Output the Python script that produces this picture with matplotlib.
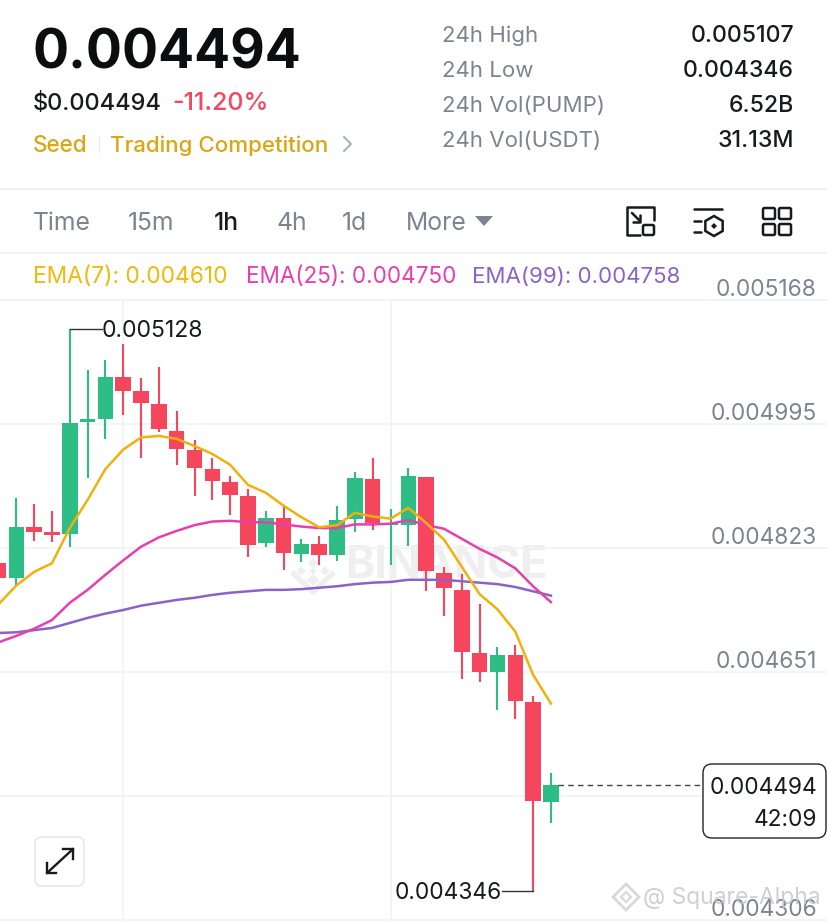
import matplotlib
matplotlib.use("Agg")
import matplotlib.pyplot as plt
from matplotlib.patches import FancyBboxPatch, Polygon, RegularPolygon

plt.rcParams['font.family'] = ['Inter', 'DejaVu Sans']

# Prices in millionths of USDT; candle index -1 is the clipped one at the left edge
idx = list(range(-1, 31))
tops = [4803,4852,4852,4845,4997,5002,5061,5061,5041,5024,4986,4960,4933,4915,4895,4865,4865,
        4829,4829,4862,4920,4919,4858,4923,4922,4789,4765,4677,4674,4674,4609,4494]
bottoms = [4781,4781,4845,4841,4842,4998,5002,5042,5025,4988,4961,4934,4916,4897,4828,4830,4816,
           4815,4813,4813,4864,4858,4855,4855,4791,4767,4678,4651,4651,4610,4472,4470]
highs = [4813,4893,4884,4875,5128,5071,5085,5107,5060,5075,5014,4973,4949,4923,4905,4875,4882,
         4836,4840,4882,4929,4948,4877,4935,4922,4797,4787,4745,4685,4688,4617,4510]
lows = [4772,4770,4833,4832,4825,4920,4975,5008,4949,4985,4939,4896,4890,4869,4810,4824,4793,
        4804,4800,4805,4846,4848,4799,4826,4763,4729,4641,4637,4598,4586,4346,4441]
up = [0,1,0,0,1,1,1,0,0,0,0,0,0,0,0,1,0,1,0,1,1,0,1,1,0,0,0,0,1,0,0,1]
ema7 = [4745,4771,4790,4802,4851,4890,4933,4960,4977,4979,4975,4965,4954,4939,4911,4900,4882,
        4866,4852,4855,4872,4867,4864,4879,4858,4835,4797,4759,4738,4707,4647,4607]
ema25 = [4692,4701,4711,4723,4747,4765,4786,4806,4825,4838,4847,4855,4860,4861,4859,4859,4856,
         4853,4851,4851,4856,4856,4857,4862,4855,4850,4836,4822,4810,4795,4770,4748]
ema99 = [4705,4706,4709,4712,4719,4726,4732,4737,4743,4747,4751,4754,4758,4761,4763,4765,4765,
         4766,4768,4770,4773,4775,4776,4779,4779,4779,4777,4775,4773,4769,4763,4757]
ytick_vals = [5168,4995,4823,4651,4478,4306]
ytick_labels = ['0.005168','0.004995','0.004823','0.004651','0.004478','0.004306']
grid_times = [6, 21]
tabs = ['Time','15m','1h','4h','1d','More']
stat_names = ['24h High','24h Low','24h Vol(PUMP)','24h Vol(USDT)']
stat_values = ['0.005107','0.004346','6.52B','31.13M']

GREEN, RED = '#2ebd85', '#f6465d'
GRID = '#f1f2f3'
GRAY = '#7b8490'
DARK = '#181a20'
WM = '#efeff0'
W, H = 828, 922

fig = plt.figure(figsize=(8.28, 9.22), dpi=100, facecolor='white')

# Background layer in pixels: faint exchange watermark behind the candles
bg = fig.add_axes([0, 0, 1, 1], zorder=0)
bg.set_xlim(0, W)
bg.set_ylim(H, 0)
bg.axis('off')

ax = fig.add_axes([0, 0, 1, (922-256)/922], zorder=1)
ax.set_xlim(-0.915, 45.55)
ax.set_ylim(4303.2, 5229.2)
ax.axis('off')

bg.text(446, 566, 'BINANCE', fontsize=32, fontweight='bold', color=WM, ha='center', va='center')
for (cx, cy, r) in [(313, 580, 6), (313, 563, 5), (301, 571, 4.5), (325, 571, 4.5), (313, 571, 3.5)]:
    bg.add_patch(RegularPolygon((cx, cy), 4, radius=r, fc=WM, ec='none'))
bg.plot([294, 313, 332], [574, 592, 574], color=WM, lw=4)

for p in ytick_vals:
    ax.axhline(p, color=GRID, lw=1.2, zorder=1)
for t in grid_times:
    ax.vlines(t, 4303.2, 5168, color=GRID, lw=1.2, zorder=1)

colors = [GREEN if u else RED for u in up]
ax.vlines(idx, lows, highs, colors=colors, lw=1.5, zorder=2)
ax.bar(idx, [t-b for t, b in zip(tops, bottoms)], bottom=bottoms, width=0.87,
       color=colors, zorder=2.5)

ax.plot(idx, ema99, color='#8a62c9', lw=1.8, zorder=3)
ax.plot(idx, ema25, color='#e83fae', lw=1.8, zorder=3.1)
ax.plot(idx, ema7, color='#f0b10d', lw=1.8, zorder=3.2)

# High / low leaders
ax.plot([3, 4.8], [5128, 5128], color='#333333', lw=1, zorder=3.5)
ax.text(4.8, 5125.2, '0.005128', fontsize=16.6, color=DARK, va='center', ha='left', zorder=4)
ax.plot([27.25, 29], [4346, 4346], color='#333333', lw=1, zorder=3.5)
ax.text(27.25, 4343.2, '0.004346', fontsize=16.4, color=DARK, va='center', ha='right', zorder=4)

# Overlay in figure pixels for the page furniture
ov = fig.add_axes([0, 0, 1, 1], zorder=5)
ov.set_xlim(0, W)
ov.set_ylim(H, 0)
ov.axis('off')
ov.patch.set_alpha(0)

def T(x, y, s, size=16, color=DARK, ha='left', weight='normal', **kw):
    return ov.text(x, y + 2, s, fontsize=size, color=color, ha=ha, va='center', fontweight=weight, **kw)

T(33, 52, '0.004494', 38.4, '#0b0e11', weight='bold')
T(33, 102, '$0.004494', 17, DARK, weight='medium')
T(172, 102, '-11.20%', 18, RED, weight='medium')
T(33, 144, 'Seed', 16.2, '#dba514', weight='medium')
ov.plot([99, 99], [136, 152], color='#eaecef', lw=1)
T(110, 144, 'Trading Competition', 16.1, '#dba514', weight='medium')
ov.plot([344, 351, 344], [137, 144, 151], color='#a8adb5', lw=1.4)

for i, (n, v) in enumerate(zip(stat_names, stat_values)):
    y = 34 + 35*i
    T(442, y, n, 16, GRAY)
    T(794, y, v, 16.6, DARK, ha='right', weight='medium')

ov.plot([0, W], [189, 189], color='#eff0f2', lw=1.3)
ov.plot([0, W], [253, 253], color='#f3f4f5', lw=1.3)

for x, s in zip([33, 128, 214, 277, 342, 406], tabs):
    T(x, 221, s, 17.8, DARK if s == '1h' else GRAY, weight='medium' if s == '1h' else 'normal')
ov.add_patch(Polygon([[475, 216], [493, 216], [484, 226]], closed=True, fc=GRAY, ec='none'))

# Toolbar icons
ic = dict(color='#181a20', lw=1.8, solid_capstyle='round', solid_joinstyle='round')
ov.plot([640, 627, 627, 654, 654], [235, 235, 207, 207, 220], **ic)
ov.plot([632, 640], [213, 221], **ic)
ov.plot([640, 640, 633], [215, 222, 222], **ic)
ov.add_patch(FancyBboxPatch((643, 225), 11, 10, boxstyle='round,pad=0,rounding_size=1.5', fc='none', ec='#181a20', lw=1.8))
ov.plot([694, 722], [209, 209], **ic)
ov.plot([694, 701], [221, 221], **ic)
ov.plot([694, 701], [232, 232], **ic)
ov.add_patch(RegularPolygon((714, 226), 6, radius=10, orientation=0, fc='none', ec='#181a20', lw=1.8))
ov.add_patch(RegularPolygon((714, 226), 4, radius=3, orientation=0, fc='#181a20', ec='none'))
for x0 in (763, 779):
    for y0 in (208, 224):
        ov.add_patch(FancyBboxPatch((x0, y0), 12, 11, boxstyle='round,pad=0,rounding_size=1.5', fc='none', ec='#181a20', lw=1.8))

# EMA legend
T(33, 275, 'EMA(7): 0.004610', 16.4, '#f0b90b')
T(246, 275, 'EMA(25): 0.004750', 16.2, '#e83fae')
T(472, 275, 'EMA(99): 0.004758', 16, '#8a62c9')

# Price axis labels, placed by the price scale
for v, s in zip(ytick_vals, ytick_labels):
    y_px = H - ax.transData.transform((0, v))[1]
    T(817, y_px - 12, s, 16.3, GRAY, ha='right', zorder=2)

# Last price marker
last_y = H - ax.transData.transform((0, tops[-1]))[1]
ov.plot([558, 703], [last_y, last_y], color='#444444', lw=1, dashes=(4, 3))
ov.add_patch(FancyBboxPatch((703, 764), 123, 74, boxstyle='round,pad=0,rounding_size=9',
                            fc=(1, 1, 1, 0.985), ec='#222222', lw=1, zorder=3))
T(817, 786, '0.004494', 16.3, DARK, ha='right', zorder=4)
T(817, 818, '42:09', 16.3, DARK, ha='right', zorder=4)

# Expand button
ov.add_patch(FancyBboxPatch((35, 837), 49, 49, boxstyle='round,pad=0,rounding_size=7', fc='white', ec='#e6e8ea', lw=1.2))
ov.plot([47, 73], [873, 849], color='#181a20', lw=1.7)
ov.plot([47, 47, 56], [863, 873, 873], color='#181a20', lw=1.7)
ov.plot([63, 73, 73], [849, 849, 859], color='#181a20', lw=1.7)

# Corner watermark
T(643, 896, '@ Square-Alpha', 16.5, '#c4c4c4', alpha=0.8)
ov.add_patch(RegularPolygon((626, 897), 4, radius=13, orientation=0, fc='none', ec='#d8d8d8', lw=2))
ov.add_patch(RegularPolygon((626, 897), 4, radius=5, orientation=0, fc='none', ec='#d8d8d8', lw=1.5))

fig.savefig('out.png', dpi=100)
